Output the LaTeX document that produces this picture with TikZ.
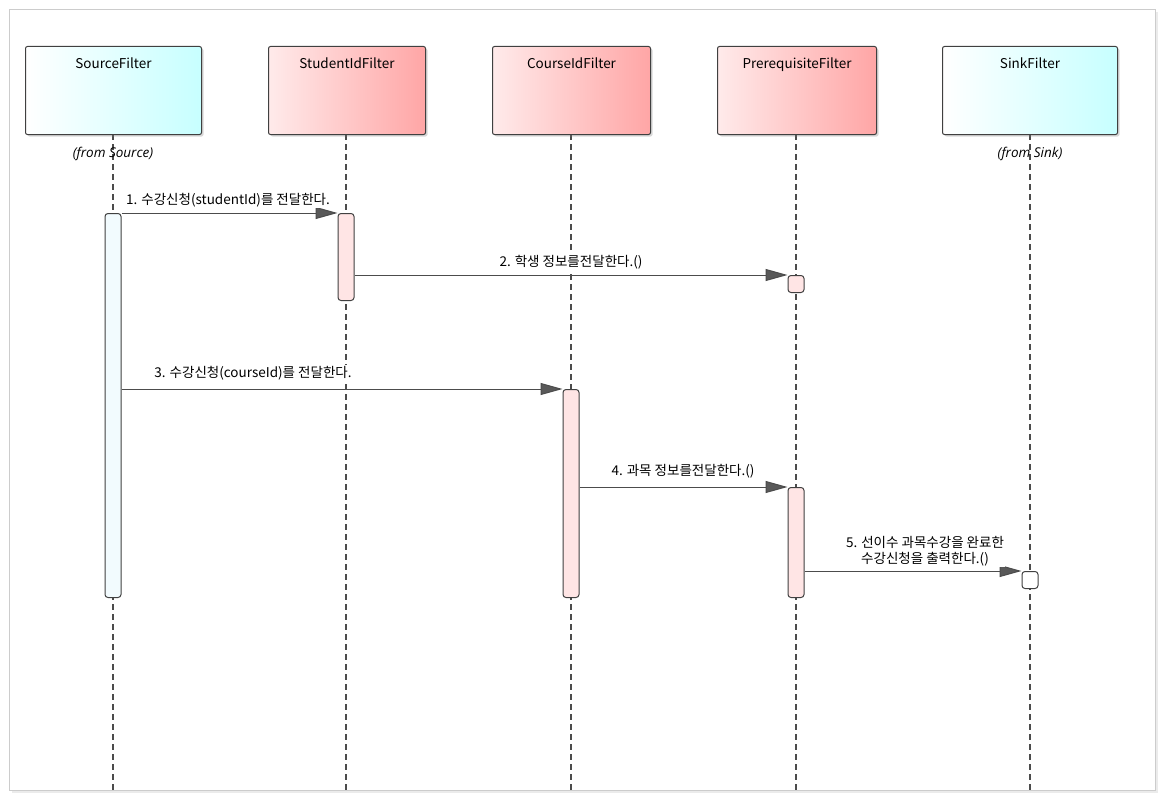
\documentclass[tikz,border=0pt]{standalone}
\usepackage{fontspec}
\setmainfont{Noto Sans CJK KR}
\newfontfamily\itf{Open Sans}
\usetikzlibrary{arrows.meta,shadows}
\begin{document}
\begin{tikzpicture}[x=1pt,y=-1pt,
  every node/.style={font=\fontsize{13.5}{16}\selectfont},
  head/.style={draw=black!75,line width=1pt,rounded corners=2pt,minimum width=#1,minimum height=88pt,anchor=north west,inner sep=0pt,drop shadow={shadow xshift=2pt,shadow yshift=-2pt,opacity=0.3}},
  cyanhead/.style={head=#1,left color=white,right color=cyan!22},
  pinkhead/.style={head=#1,left color=red!8,right color=red!35},
  life/.style={draw=black!70,line width=1.2pt,dash pattern=on 6pt off 4pt},
  act/.style={draw=black!75,line width=1pt,rounded corners=3pt,minimum width=16pt,anchor=north,inner sep=0pt},
  cact/.style={act,fill=cyan!5},
  pact/.style={act,fill=red!10},
  msg/.style={draw=black!70,line width=1pt,-{Triangle[length=22pt,width=12pt,fill=black!65]}},
  lbl/.style={inner sep=1pt,fill=white}]
\useasboundingbox (0,0) rectangle (1164,800);
\fill[black!8] (12,12) rectangle (1158,793);
\draw[black!20,fill=white] (9,9) rectangle (1155,790);
% lifelines
\foreach \x in {113,346,571,796,1030} \draw[life] (\x,134) -- (\x,790);
% heads
\node[cyanhead=176pt] (src) at (25,46) {};
\node[anchor=north] at (src.north) [yshift=-8pt] {SourceFilter};
\node[pinkhead=157pt] (stu) at (268,46) {};
\node[anchor=north] at (stu.north) [yshift=-8pt] {StudentIdFilter};
\node[pinkhead=158pt] (crs) at (492,46) {};
\node[anchor=north] at (crs.north) [yshift=-8pt] {CourseIdFilter};
\node[pinkhead=159pt] (pre) at (717,46) {};
\node[anchor=north] at (pre.north) [yshift=-8pt] {PrerequisiteFilter};
\node[cyanhead=175pt] (snk) at (942,46) {};
\node[anchor=north] at (snk.north) [yshift=-8pt] {SinkFilter};
\node[font=\fontsize{13.5}{16}\itf\itshape] (fs) at (113,154) {(from Source)};
\node[font=\fontsize{13.5}{16}\itf\itshape] (fk) at (1030,154) {(from Sink)};
% activations
\node[cact,minimum height=384pt] (a1) at (113,213) {};
\node[pact,minimum height=87pt] (a2) at (346,213) {};
\node[pact,minimum height=17pt] (a3) at (796,275) {};
\node[pact,minimum height=208pt] (a4) at (571,389) {};
\node[pact,minimum height=110pt] (a5) at (796,487) {};
\node[cact,minimum height=17pt,fill=white] (a6) at (1030,571) {};
% messages
\draw[msg] (a1.north east) -- (a2.north west);
\node[lbl] at (228,200) {1. 수강신청(studentId)를 전달한다.};
\draw[msg] (a2.east |- a3.north) -- (a3.north west);
\node[lbl] at (571,262) {2. 학생 정보를전달한다.()};
\draw[msg] (a1.east |- a4.north) -- (a4.north west);
\node[lbl] at (253,373) {3. 수강신청(courseId)를 전달한다.};
\draw[msg] (a4.east |- a5.north) -- (a5.north west);
\node[lbl] at (683,471) {4. 과목 정보를전달한다.()};
\draw[msg] (a5.east |- a6.north) -- (a6.north west);
\node[lbl,align=center] at (925,551) {5. 선이수 과목수강을 완료한\\수강신청을 출력한다.()};
\end{tikzpicture}
\end{document}
